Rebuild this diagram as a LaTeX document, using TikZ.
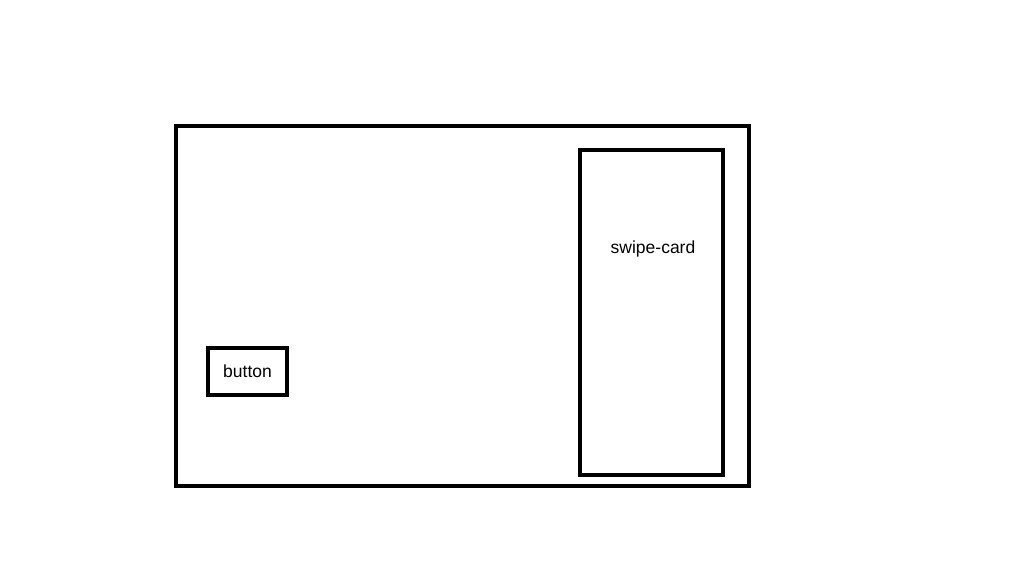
\documentclass[tikz,border=0pt]{standalone}
\usepackage{fontspec}
\setmainfont{Liberation Sans}
\usetikzlibrary{positioning}

\begin{document}
\begin{tikzpicture}[
    x=1pt,y=-1pt,
    box/.style={rectangle,draw,line width=4pt,inner sep=0pt},
    txt/.style={font=\fontsize{17.5}{20}\selectfont,inner sep=0pt}]
    \useasboundingbox (0,0) rectangle (1024,576);
    \node[box,minimum width=573pt,minimum height=360pt] (panel) at (462.5,306) {};
    \node[box,minimum width=143pt,minimum height=325pt] (card) at (651.5,312.5) {};
    \node[txt] (cardlabel) at ([xshift=1.5pt,yshift=-101pt]card.north) {swipe-card};
    \node[box,txt,minimum width=79pt,minimum height=47pt] (button) at (247.5,371.5) {button};
  \end{tikzpicture}
\end{document}
